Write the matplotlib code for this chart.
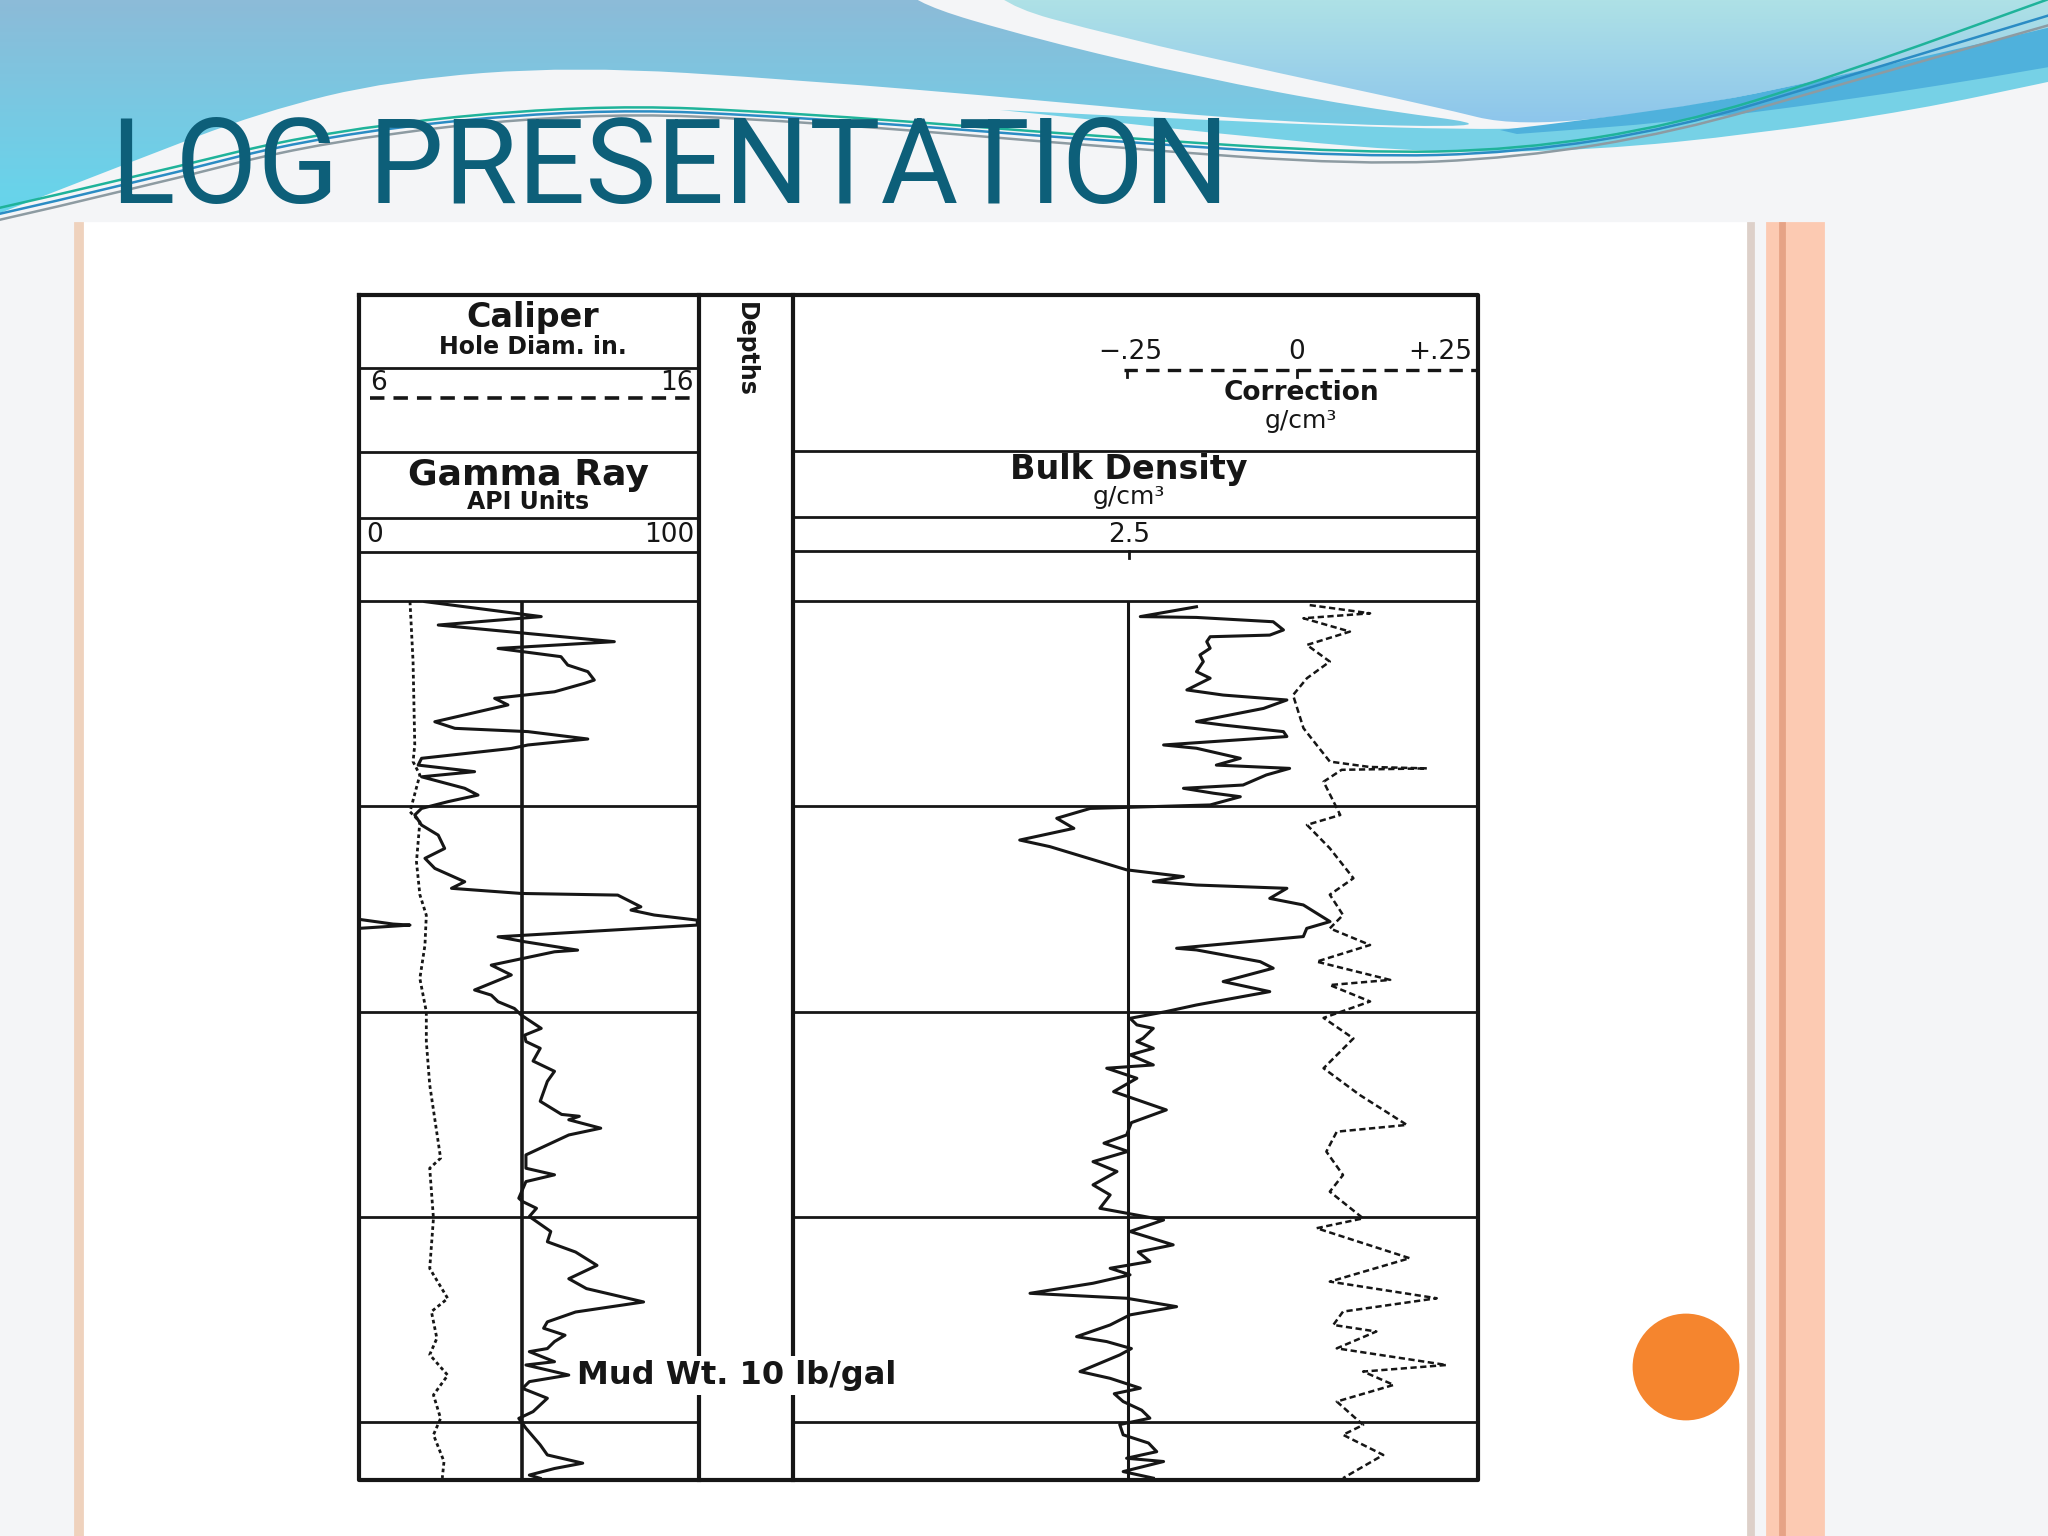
import matplotlib
matplotlib.use("Agg")
import numpy as np
import matplotlib.pyplot as plt
from matplotlib import font_manager
from matplotlib.path import Path
from matplotlib.patches import PathPatch, Circle, Rectangle

W, H = 2048, 1536

# ---- log data (depth in ft below top of the logged interval) ----
depth_lines = [100, 200, 300, 400]
depth_bottom = 428
gr_shale_line = 48
den_ref_line = 2.5

# gamma ray, API units (0-100)
gr_log = [(0.3, 19.4), (7.6, 53.6), (11.7, 23.3), (19.8, 75.1), (23.1, 40.9), (27.1, 59.4),
          (31.2, 61.4), (34.4, 67.3), (38.5, 69.2), (40.1, 66.3), (44.2, 57.5), (47.4, 39.9),
          (50.6, 43.8), (58.8, 22.3), (62.0, 28.2), (63.6, 49.7), (67.2, 67.3), (70.1, 49.7),
          (71.8, 44.8), (76.6, 18.4), (79.9, 17.4), (83.1, 34.0), (85.6, 18.4), (91.2, 31.1),
          (94.5, 35.0), (97.7, 26.2), (101.0, 18.4), (104.2, 16.4), (109.1, 18.4), (114.0, 23.3),
          (120.5, 25.2), (125.3, 19.4), (130.2, 22.3), (136.7, 31.1), (139.9, 27.2), (142.4, 47.7),
          (143.2, 76.1), (148.9, 82.9), (150.5, 80.0), (152.9, 86.8), (155.4, 99.5), (157.8, 99.5),
          (163.5, 40.9), (165.9, 48.7), (170.0, 64.3), (170.8, 57.5), (177.3, 38.9), (182.1, 44.8),
          (189.4, 34.0), (191.9, 38.9), (195.1, 40.9), (198.4, 45.7), (201.6, 47.7), (208.1, 53.6),
          (211.4, 48.7), (214.5, 49.1), (217.8, 53.3), (224.0, 51.2), (229.0, 57.5), (233.9, 55.4),
          (243.6, 53.3), (250.0, 59.6), (250.9, 64.8), (252.6, 61.7), (256.7, 71.1), (260.0, 61.7),
          (269.7, 49.1), (276.2, 49.1), (279.4, 57.5), (282.7, 49.1), (290.8, 47.0), (292.4, 48.1),
          (295.7, 52.2), (299.7, 50.1), (307.0, 56.4), (312.0, 55.4), (317.0, 63.7), (323.5, 70.0),
          (330.0, 61.7), (334.8, 66.9), (341.3, 83.7), (346.2, 63.7), (351.0, 55.4), (354.1, 54.3),
          (357.5, 60.6), (360.6, 57.5), (364.0, 55.4), (365.5, 50.1), (370.4, 57.5), (372.0, 49.1),
          (376.9, 61.7), (380.1, 50.1), (383.4, 48.1), (388.2, 55.4), (394.7, 51.2), (398.0, 47.0),
          (402.8, 49.1), (410.9, 53.3), (415.8, 55.4), (419.8, 65.8), (422.4, 57.5), (425.6, 50.1),
          (427.2, 53.3)]
gr_backup = [(155.0, 0.0), (157.3, 10.0), (157.8, 15.0), (159.4, 0.0)]

# caliper, hole diameter in inches (6-16)
caliper_log = [(0.3, 7.50), (29.5, 7.59), (70.1, 7.64), (78.2, 7.59), (84.7, 7.79), (102.6, 7.50),
               (107.5, 7.79), (127.0, 7.69), (143.0, 7.79), (153.0, 7.98), (167.5, 7.94), (183.8, 7.79),
               (200.0, 7.98), (214.5, 7.98), (235.6, 8.08), (271.3, 8.40), (276.2, 8.08), (300.6, 8.19),
               (325.0, 8.08), (339.6, 8.61), (346.0, 8.13), (359.0, 8.29), (367.0, 8.08), (377.0, 8.61),
               (386.6, 8.19), (398.0, 8.40), (406.0, 8.19), (419.0, 8.50), (427.0, 8.45)]

# bulk density, g/cm3
density_log = [(2.8, 2.600), (7.6, 2.518), (8.0, 2.600), (10.1, 2.712), (14.1, 2.727), (16.6, 2.707),
               (17.4, 2.620), (19.8, 2.615), (23.0, 2.620), (26.3, 2.605), (29.5, 2.610), (34.4, 2.600),
               (37.6, 2.620), (43.3, 2.586), (45.8, 2.639), (48.2, 2.732), (52.3, 2.698), (58.7, 2.600),
               (60.4, 2.639), (63.6, 2.727), (66.0, 2.732), (70.1, 2.552), (71.7, 2.600), (76.6, 2.664),
               (79.9, 2.629), (81.5, 2.736), (84.7, 2.702), (89.6, 2.668), (91.2, 2.581), (93.6, 2.625),
               (95.3, 2.664), (99.3, 2.620), (101.0, 2.445), (105.8, 2.396), (110.7, 2.421), (116.4, 2.342),
               (119.6, 2.386), (130.9, 2.498), (134.2, 2.581), (136.6, 2.537), (138.3, 2.600), (139.9, 2.732),
               (144.8, 2.707), (148.0, 2.756), (156.1, 2.795), (159.4, 2.761), (163.4, 2.756), (169.1, 2.571),
               (169.9, 2.600), (175.6, 2.693), (178.8, 2.712), (185.3, 2.639), (190.2, 2.707), (196.7, 2.600),
               (199.9, 2.556), (203.2, 2.503), (206.4, 2.513), (208.1, 2.537), (212.9, 2.522),
               (214.5, 2.513), (217.8, 2.537), (221.0, 2.503), (225.9, 2.537), (227.5, 2.469), (232.4, 2.513),
               (238.9, 2.479), (247.8, 2.556), (254.0, 2.505), (260.0, 2.498), (264.0, 2.465), (268.0, 2.500),
               (273.0, 2.449), (277.8, 2.484), (284.3, 2.449), (289.2, 2.474), (295.7, 2.459), (301.4, 2.552),
               (307.0, 2.503), (313.5, 2.566), (317.0, 2.515), (321.6, 2.532), (324.9, 2.474), (328.1, 2.503),
               (332.2, 2.449), (337.1, 2.357), (339.5, 2.498), (343.6, 2.571), (347.6, 2.503), (352.5, 2.474),
               (358.2, 2.425), (360.6, 2.469), (364.0, 2.505), (367.1, 2.488), (375.2, 2.430), (378.5, 2.474),
               (383.3, 2.518), (386.0, 2.480), (389.8, 2.493), (394.0, 2.520), (397.9, 2.532), (401.0, 2.488),
               (406.0, 2.493), (410.0, 2.530), (414.2, 2.542), (417.4, 2.498), (419.0, 2.552), (423.9, 2.493),
               (427.1, 2.537)]

# density correction, g/cm3
correction_log = [(2.0, 0.014), (6.0, 0.101), (8.4, 0.005), (14.9, 0.072), (21.4, 0.010), (29.5, 0.043),
                  (37.6, 0.010), (45.8, -0.010), (61.9, 0.005), (70.1, 0.024), (78.2, 0.043), (80.8, 0.100),
                  (81.5, 0.183), (82.2, 0.060), (88.0, 0.034), (104.2, 0.058), (109.0, 0.010), (120.4, 0.043),
                  (135.0, 0.077), (143.0, 0.043), (152.9, 0.062), (159.4, 0.043), (167.5, 0.101), (175.6, 0.024),
                  (184.5, 0.130), (187.0, 0.043), (195.0, 0.101), (203.0, 0.034), (213.0, 0.077), (227.5, 0.034),
                  (240.5, 0.086), (255.1, 0.154), (258.4, 0.053), (268.1, 0.038), (279.5, 0.062), (287.6, 0.043),
                  (300.6, 0.091), (305.4, 0.024), (320.0, 0.158), (331.4, 0.043), (339.5, 0.197), (346.0, 0.062),
                  (352.5, 0.048), (355.7, 0.110), (363.9, 0.053), (372.0, 0.211), (375.2, 0.091), (381.7, 0.135),
                  (389.8, 0.053), (401.2, 0.091), (406.0, 0.062), (415.8, 0.120), (427.1, 0.062)]

INK = "#161616"


def has_font(name):
    try:
        font_manager.findfont(name, fallback_to_default=False)
        return True
    except ValueError:
        return False


def px_axes(fig, x0, y0, x1, y1):
    # axes placed by slide pixel box (y downwards)
    ax = fig.add_axes([x0 / W, 1 - y1 / H, (x1 - x0) / W, (y1 - y0) / H])
    ax.axis("off")
    ax.patch.set_alpha(0)
    return ax


def smooth(points, closed=False):
    verts = [points[0]]
    codes = [Path.MOVETO]
    for i in range(1, len(points) - 1):
        mid = ((points[i][0] + points[i + 1][0]) / 2, (points[i][1] + points[i + 1][1]) / 2)
        verts += [points[i], mid]
        codes += [Path.CURVE3, Path.CURVE3]
    verts.append(points[-1])
    codes.append(Path.LINETO)
    if closed:
        verts.append(points[0])
        codes.append(Path.CLOSEPOLY)
    return Path(verts, codes)


def gradient_fill(ax, path, top, bottom, y0, y1):
    patch = PathPatch(path, fc="none", ec="none", transform=ax.transData)
    ax.add_patch(patch)
    c0 = np.array(matplotlib.colors.to_rgb(top))
    c1 = np.array(matplotlib.colors.to_rgb(bottom))
    t = np.linspace(0, 1, 64)[:, None, None]
    img = c0 * (1 - t) + c1 * t
    img = np.repeat(img, 4, axis=1)
    im = ax.imshow(img, extent=[0, W, y1, y0], origin="upper", aspect="auto", zorder=1)
    im.set_clip_path(patch)


fig = plt.figure(figsize=(10.24, 7.68), dpi=200)
frame = fig.add_axes([0, 0, 1, 1])
frame.set_xlim(0, W)
frame.set_ylim(H, 0)
frame.axis("off")
frame.add_patch(Rectangle((0, 0), W, H, color="#f4f5f7", zorder=0))

# ---- top wave decoration ----
shape_a = [(-30, -30), (903, -30), (903, 0), (1039, 40), (1198, 77), (1357, 107), (1517, 128),
           (1278, 123), (1039, 100), (800, 80), (574, 66), (392, 80), (261, 112), (131, 162),
           (0, 213), (-30, 225)]
shape_b = [(983, -30), (983, 0), (1118, 37), (1278, 73), (1437, 107), (1517, 127), (1676, 110),
           (1835, 77), (2048, 30), (2080, 20), (2080, -30)]
shape_d = [(1500, 130), (1676, 110), (1835, 77), (2048, 28), (2080, 20), (2080, 60), (2048, 68),
           (1835, 102), (1676, 122), (1517, 134)]
shape_c = [(1000, 110), (1278, 124), (1517, 131), (1676, 121), (1835, 101), (2048, 66), (2080, 60),
           (2080, 75), (2048, 82), (1915, 110), (1755, 134), (1596, 150), (1437, 153), (1278, 140),
           (1039, 114)]
gradient_fill(frame, smooth(shape_a, True), "#8cbbd8", "#63d7ed", 0, 225)
gradient_fill(frame, smooth(shape_b, True), "#aee1e6", "#8ac3ec", 0, 135)
frame.add_patch(PathPatch(smooth(shape_c, True), fc="#76d1e6", ec="none", zorder=2))
frame.add_patch(PathPatch(smooth(shape_d, True), fc="#4fb1dc", ec="none", zorder=2))

swoosh_lines = [
    ("#1fb39a", [(-10, 210), (131, 178), (326, 130), (587, 104), (800, 113), (1118, 138),
                 (1357, 153), (1517, 150), (1676, 125), (1835, 76), (2060, -5)]),
    ("#2b8cc4", [(-10, 216), (131, 184), (326, 134), (587, 108), (800, 117), (1118, 142),
                 (1357, 157), (1517, 153), (1676, 128), (1835, 80), (2060, 12)]),
    ("#8d9ba2", [(-10, 222), (131, 190), (326, 140), (587, 112), (800, 121), (1118, 148),
                 (1357, 165), (1517, 158), (1676, 132), (1835, 86), (2060, 22)]),
]
for col, pts in swoosh_lines:
    frame.add_patch(PathPatch(smooth(pts), fc="none", ec=col, lw=0.9, zorder=3))

# title: narrow face if present, otherwise fit the width of the original
title_family = "Liberation Sans Narrow" if has_font("Liberation Sans Narrow") else "Roboto"
title = frame.text(111, 203, "LOG PRESENTATION", fontsize=46, color="#0d5f79", ha="left",
                   va="baseline", family=[title_family, "DejaVu Sans"], zorder=5)
fig.canvas.draw()
tw = title.get_window_extent().width
title.set_fontsize(46 * min(1.0, 1117 / tw) if title_family != "Roboto" else 46 * 1117 / tw)

# ---- slide panel and borders ----
frame.add_patch(Rectangle((82, 223), 1747 - 82, H - 223, color="white", zorder=4))
frame.add_patch(Rectangle((75, 223), 7, H - 223, color="#efd2bd", zorder=4))
frame.add_patch(Rectangle((1748, 223), 5, H - 223, color="#ddd0c9", zorder=4))
frame.add_patch(Rectangle((1767, 223), 56, H - 223, color="#fccab2", zorder=4))
frame.add_patch(Rectangle((1780, 223), 4, H - 223, color="#e6a386", zorder=4))
frame.add_patch(Circle((1686, 1367), 52, color="#f5852e", zorder=5))

# ---- log frame and header ----
BW, GW = 1.5, 1.0
L, R, T, B = 359, 1478, 295, 1480
X1, X2 = 699, 793
kw = dict(color=INK, zorder=6)
frame.plot([L, R, R, L, L], [T, T, B, B, T], lw=BW, **kw)
frame.plot([X1, X1], [T, B], lw=BW, **kw)
frame.plot([X2, X2], [T, B], lw=BW, **kw)
for y in [368, 452, 518, 552, 601]:
    frame.plot([L, X1], [y, y], lw=GW, **kw)
for y in [451, 517, 551, 601]:
    frame.plot([X2, R], [y, y], lw=GW, **kw)
frame.plot([370, 697], [398, 398], lw=1.3, ls=(0, (4, 2.5)), **kw)
frame.plot([1124, R], [370, 370], lw=1.2, ls=(0, (4, 2.5)), **kw)
frame.plot([1127, 1127], [370, 377], lw=1.0, **kw)
frame.plot([1297, 1297], [370, 377], lw=1.0, **kw)
frame.plot([1129, 1129], [551, 558], lw=1.0, **kw)

tk = dict(color=INK, zorder=7, ha="center", va="center", family="DejaVu Sans")
frame.text(533, 317, "Caliper", fontsize=12, weight="bold", **tk)
frame.text(533, 347, "Hole Diam. in.", fontsize=8.5, weight="bold", **tk)
frame.text(370, 383, "6", fontsize=9.5, **{**tk, "ha": "left"})
frame.text(694, 383, "16", fontsize=9.5, **{**tk, "ha": "right"})
frame.text(528, 475, "Gamma Ray", fontsize=13, weight="bold", **tk)
frame.text(528, 502, "API Units", fontsize=8.5, weight="bold", **tk)
frame.text(366, 535, "0", fontsize=9.5, **{**tk, "ha": "left"})
frame.text(694, 535, "100", fontsize=9.5, **{**tk, "ha": "right"})
frame.text(746, 349, "Depths", fontsize=8.5, weight="bold", rotation=-90, **tk)
frame.text(1162, 352, "\u2212.25", fontsize=9.5, **{**tk, "ha": "right"})
frame.text(1297, 352, "0", fontsize=9.5, **tk)
frame.text(1472, 352, "+.25", fontsize=9.5, **{**tk, "ha": "right"})
frame.text(1301, 393, "Correction", fontsize=9.5, weight="bold", **tk)
frame.text(1301, 421, "g/cm\u00b3", fontsize=9, **tk)
frame.text(1129, 470, "Bulk Density", fontsize=12, weight="bold", **tk)
frame.text(1129, 497, "g/cm\u00b3", fontsize=9, **tk)
frame.text(1129, 535, "2.5", fontsize=9.5, **tk)

# ---- track 1: gamma ray + caliper ----
ax_gr = px_axes(fig, L, 601, X1, B)
ax_gr.set_xlim(0, 100)
ax_gr.set_ylim(depth_bottom, 0)
for d in depth_lines:
    ax_gr.axhline(d, color=INK, lw=GW)
ax_gr.axvline(gr_shale_line, color=INK, lw=1.3)
gr_depth, gr_api = zip(*gr_log)
ax_gr.plot(gr_api, gr_depth, color=INK, lw=1.1)
bk_depth, bk_api = zip(*gr_backup)
ax_gr.plot(bk_api, bk_depth, color=INK, lw=1.1)

ax_cal = px_axes(fig, L, 601, X1, B)
ax_cal.set_xlim(6, 16)
ax_cal.set_ylim(depth_bottom, 0)
cal_depth, cal_in = zip(*caliper_log)
ax_cal.plot(cal_in, cal_depth, color=INK, lw=1.0, ls=(0, (1.3, 1.1)))

# ---- tracks 2-3: bulk density + correction ----
ax_den = px_axes(fig, X2, 601, R, B)
ax_den.set_xlim(2.011, 3.011)
ax_den.set_ylim(depth_bottom, 0)
for d in depth_lines:
    ax_den.axhline(d, color=INK, lw=GW)
ax_den.axvline(den_ref_line, color=INK, lw=1.1)
den_depth, den_val = zip(*density_log)
ax_den.plot(den_val, den_depth, color=INK, lw=1.1)

ax_cor = px_axes(fig, X2, 601, R, B)
ax_cor.set_xlim(-0.7305, 0.2565)
ax_cor.set_ylim(depth_bottom, 0)
cor_depth, cor_val = zip(*correction_log)
ax_cor.plot(cor_val, cor_depth, color=INK, lw=0.9, ls=(0, (2.5, 1.4)))

ax_gr.text(64, 377, "Mud Wt. 10 lb/gal", fontsize=11.5, color=INK, ha="left", va="center",
           weight="bold", clip_on=False, zorder=8,
           bbox=dict(fc="white", ec="none", pad=1.5))

fig.savefig("out.png", dpi=200)
